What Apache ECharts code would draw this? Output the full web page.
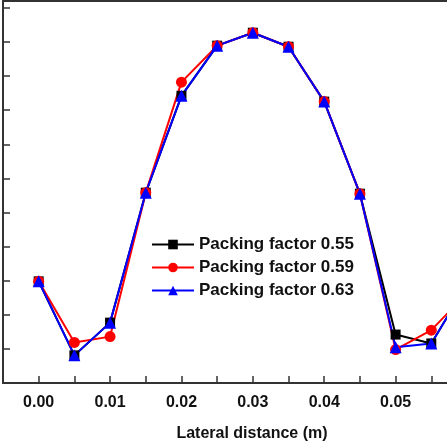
<!DOCTYPE html>
<html><head><meta charset="utf-8">
<script src="https://cdn.jsdelivr.net/npm/echarts@6/dist/echarts.min.js"></script>
<style>html,body{margin:0;padding:0;background:#fff}#c{width:447px;height:447px}</style>
</head><body><div id="c"></div>
<script>
const xs = [0, 0.005, 0.01, 0.015, 0.02, 0.025, 0.03, 0.035, 0.04, 0.045, 0.05, 0.055, 0.06];
const pf055 = [2.98, 0.81, 1.77, 5.58, 8.42, 9.89, 10.27, 9.86, 8.25, 5.55, 1.42, 1.16, 2.9];
const pf059 = [2.98, 1.19, 1.36, 5.58, 8.82, 9.89, 10.27, 9.86, 8.25, 5.55, 0.98, 1.55, 2.63];
const pf063 = [2.98, 0.81, 1.77, 5.58, 8.42, 9.89, 10.27, 9.86, 8.25, 5.55, 1.05, 1.16, 2.9];
const names = ['Packing factor 0.55', 'Packing factor 0.59', 'Packing factor 0.63'];

const chart = echarts.init(document.getElementById('c'));
const pair = arr => xs.map((x, i) => [x, arr[i]]);
const mk = (name, data, color, symbol, size) => ({
  name, type: 'line', data: pair(data), color,
  symbol, symbolSize: size, showSymbol: true,
  lineStyle: { width: 2, color }, itemStyle: { color }
});
chart.setOption({
  animation: false,
  grid: { left: 1, right: 0, top: 1, bottom: 59 },
  legend: {
    orient: 'vertical', left: 146, top: 231, itemGap: 6,
    itemWidth: 42, itemHeight: 12,
    textStyle: { fontFamily: 'Liberation Sans', fontWeight: 'bold', fontSize: 17, color: '#111' },
    data: names
  },
  xAxis: [{
    type: 'value', min: -0.005, max: 0.0572, interval: 0.005,
    axisLine: { lineStyle: { color: '#333', width: 2 } },
    axisTick: { inside: true, length: 7, lineStyle: { color: '#333', width: 1.5 } },
    splitLine: { show: false },
    axisLabel: {
      margin: 12, fontFamily: 'Liberation Sans', fontWeight: 'bold', fontSize: 16, color: '#111',
      showMaxLabel: false,
      formatter: v => { const k = Math.round(v * 1000); return (k >= 0 && k % 10 === 0) ? (k / 1000).toFixed(2) : ''; }
    },
    name: 'Lateral distance (m)', nameLocation: 'middle', nameGap: 43,
    nameTextStyle: { fontFamily: 'Liberation Sans', fontWeight: 'bold', fontSize: 16, color: '#111', padding: [0, 0, 0, 54] }
  }, {
    type: 'value', position: 'top', min: -0.005, max: 0.0572,
    axisLine: { show: true, onZero: false, lineStyle: { color: '#333', width: 2 } },
    axisTick: { show: false }, axisLabel: { show: false }, splitLine: { show: false }
  }],
  yAxis: {
    type: 'value', min: 0, max: 11.2, interval: 1,
    axisLine: { show: true, onZero: false, lineStyle: { color: '#333', width: 2 } },
    axisTick: { show: true, inside: true, length: 7, lineStyle: { color: '#333', width: 1.5 } },
    axisLabel: { show: false }, splitLine: { show: false }
  },
  series: [
    mk(names[0], pf055, '#000000', 'rect', 10),
    mk(names[1], pf059, '#ff0000', 'circle', 11),
    mk(names[2], pf063, '#0000ff', 'triangle', 12)
  ]
});
</script></body></html>
